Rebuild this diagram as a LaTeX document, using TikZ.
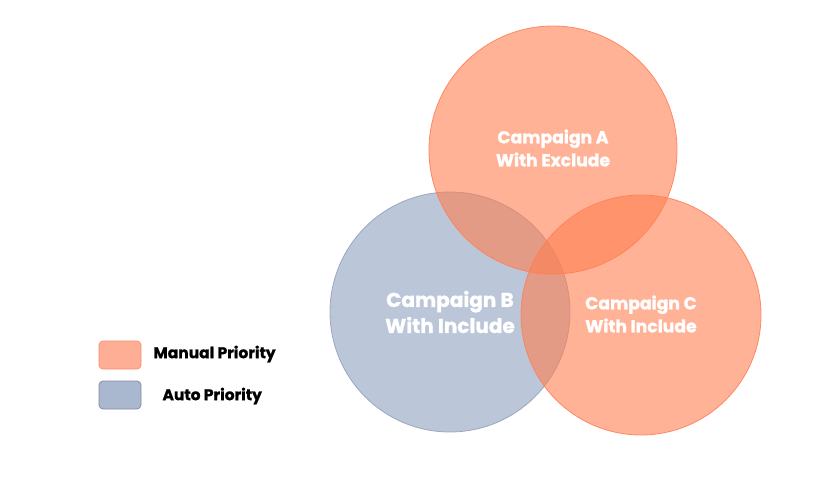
\documentclass[tikz,border=0pt]{standalone}
\usepackage{fontspec}
\setmainfont{Poppins}[BoldFeatures={FakeBold=1.2}]
\definecolor{coral}{HTML}{FF7F50}
\definecolor{coraledge}{HTML}{FF7F5B}
\definecolor{bluebase}{HTML}{8DA1C0}
\definecolor{blueedge}{HTML}{8C9BB5}
\definecolor{legorange}{HTML}{FDAE94}
\definecolor{legoredge}{HTML}{F98C6C}
\definecolor{legblue}{HTML}{A9B8CE}
\definecolor{legbedge}{HTML}{7F8CA0}
\begin{document}
\begin{tikzpicture}[x=1pt,y=-1pt,
  orangecirc/.style={circle, fill=coral, fill opacity=0.6, draw=coraledge, draw opacity=0.9, line width=0.8pt, inner sep=0pt},
  bluecirc/.style={circle, fill=bluebase, fill opacity=0.6, draw=blueedge, draw opacity=0.8, line width=0.8pt, inner sep=0pt},
  circlabel/.style={text=white, font=\bfseries, align=center},
  legbox/.style={rounded corners=4pt, line width=0.7pt, minimum width=42pt, minimum height=28pt, inner sep=0pt},
  legtext/.style={font=\bfseries\fontsize{15.5}{18}\selectfont, text=black, anchor=west}
]
\useasboundingbox (0,0) rectangle (823,479);
\node[bluecirc, minimum size=240pt] (B) at (450,312) {};
\node[orangecirc, minimum size=248pt] (A) at (553,150) {};
\node[orangecirc, minimum size=240pt] (C) at (641,315) {};
\node[circlabel, font=\bfseries\fontsize{17.2}{23}\selectfont] (LA) at (553,148) {Campaign A\\With Exclude};
\node[circlabel, font=\bfseries\fontsize{20}{26}\selectfont] (LB) at (450,312) {Campaign B\\With Include};
\node[circlabel, font=\bfseries\fontsize{17.2}{23}\selectfont] (LC) at (641,314) {Campaign C\\With Include};
\node[legbox, fill=legorange, draw=legoredge] (K1) at (120,355) {};
\node[legbox, fill=legblue, draw=legbedge] (K2) at (120,395) {};
\node[legtext] (T1) at (150,354) {Manual Priority};
\node[legtext] (T2) at (159,396) {Auto Priority};
\end{tikzpicture}
\end{document}
